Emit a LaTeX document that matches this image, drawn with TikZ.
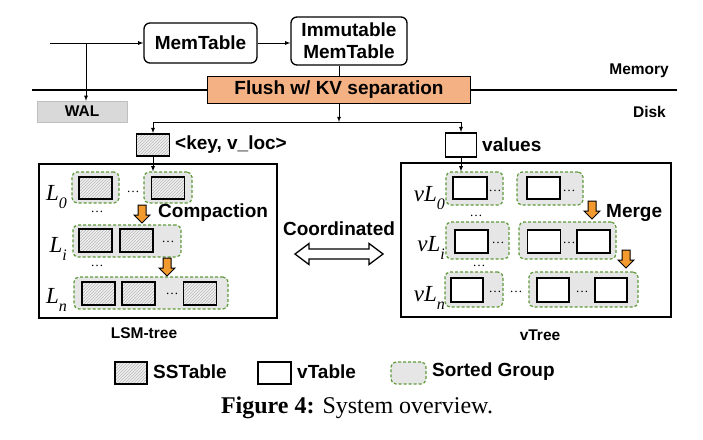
\documentclass[tikz,border=0pt]{standalone}
\usepackage{fontspec}
\setmainfont{Liberation Serif}
\setsansfont{Liberation Sans}
\usetikzlibrary{patterns,positioning}

\definecolor{laranja}{HTML}{F4B183}
\definecolor{laranjaforte}{HTML}{F39A2E}
\definecolor{verde}{HTML}{5E9A3A}
\definecolor{cinza}{HTML}{E6E6E6}
\definecolor{cinzawal}{HTML}{D9D9D9}

\newcommand{\bigf}{\fontsize{19}{22}\selectfont\sffamily\bfseries}
\newcommand{\smallf}{\fontsize{15.5}{18}\selectfont\sffamily\bfseries}
\newcommand{\lvl}[2]{\textit{#1\raisebox{-0.35em}{\fontsize{16}{16}\selectfont #2}}}

\tikzset{pics/desce/.style={code={
  \draw[line width=1pt, fill=laranjaforte] (-4,-9) -- (4,-9) -- (4,1) -- (8,1) -- (0,9) -- (-8,1) -- (-4,1) -- cycle;}}}

\begin{document}
\begin{tikzpicture}[x=1pt,y=-1pt]
        \tikzstyle{caixa}=[draw=black, line width=1.3pt, rounded corners=6pt, fill=white, font=\bigf, align=center, inner sep=0pt]
        \tikzstyle{sst}=[draw=black, line width=1.8pt, preaction={fill=gray!12}, pattern=north east lines, pattern color=gray!55, minimum width=33, minimum height=22, inner sep=0pt]
        \tikzstyle{vtab}=[draw=black, line width=1.8pt, fill=white, minimum width=33, minimum height=22, inner sep=0pt]
        \tikzstyle{grupo}=[draw=verde, dash pattern=on 3pt off 2pt, line width=1.2pt, rounded corners=5pt, fill=cinza, inner sep=0pt]
        \tikzstyle{seta}=[->, >=latex, line width=0.8pt]
        \tikzstyle{rotulo}=[font=\bigf, inner sep=0pt]
        \tikzstyle{pequeno}=[font=\smallf, inner sep=0pt]
        \tikzstyle{nivel}=[font=\fontsize{23}{23}\selectfont\rmfamily, inner sep=0pt, anchor=base east]
        \tikzstyle{pontos}=[font=\fontsize{13}{13}\selectfont\rmfamily, inner sep=0pt]

        \useasboundingbox (0,0) rectangle (703,439);

        % memoria
        \coordinate (entrada) at (50,43);
        \coordinate (ramo) at (86,43);
        \node[caixa, minimum width=113, minimum height=40] (mem) at (200.5,43) {MemTable};
        \node[caixa, minimum width=116, minimum height=48] (imut) at (349,41) {Immutable\\MemTable};
        \node[draw=black, line width=1.3pt, fill=laranja, minimum width=263, minimum height=27, font=\bigf, inner sep=0pt] (flush) at (339,90) {Flush w/ KV separation};
        \node[fill=cinzawal, draw=gray!50, minimum width=90, minimum height=21, font=\smallf, inner sep=0pt] (wal) at (82,111.5) {WAL};

        \coordinate (linhaA) at (32,90);
        \coordinate (linhaB) at (677,90);
        \draw[line width=2pt] (linhaA) -- (flush.west);
        \draw[line width=2pt] (flush.east) -- (linhaB);

        \node[pequeno, anchor=east] (memoria) at (669,71) {Memory};
        \node[pequeno, anchor=east] (disco) at (666,112) {Disk};

        \draw[seta] (entrada) -- (mem.west);
        \draw[seta] (ramo) -- (ramo |- wal.north);
        \draw[seta] (mem.east) -- (mem.east -| imut.west);
        \draw[line width=0.8pt] (flush.north) -- (flush.north |- imut.south);

        % disco
        \coordinate (split) at (339,122);
        \node[sst] (chave) at (153,145) {};
        \node[vtab, minimum width=31, minimum height=24] (vals) at (461,145) {};
        \draw[seta] (flush.south) -- (split);
        \draw[seta] (split) -| (chave.north);
        \draw[seta] (split) -| (vals.north);
        \node[rotulo, anchor=west] (chaveT) at (175,145) {<key, v\_loc>};
        \node[rotulo, anchor=west] (valsT) at (482,145) {values};

        % LSM-tree
        \node[draw=black, line width=1.3pt, minimum width=238, minimum height=154, inner sep=0pt] (lsm) at (158,241) {};
        \node[pequeno] (lsmT) at (144,333) {LSM-tree};

        \node[nivel] (l0) at (67,200) {\lvl{L}{0}};
        \node[nivel] (li) at (67,252) {\lvl{L}{i}};
        \node[nivel] (ln) at (67,303) {\lvl{L}{n}};

        \node[grupo, minimum width=47, minimum height=31] (g01) at (95.5,187.5) {};
        \node[grupo, minimum width=48, minimum height=31] (g02) at (168,187.5) {};
        \node[grupo, minimum width=108, minimum height=32] (gi) at (127,241) {};
        \node[grupo, minimum width=154, minimum height=32] (gn) at (151,293) {};

        \node[sst] (s01) at (95.5,188) {};
        \node[sst] (s02) at (168,188) {};
        \node[sst, minimum height=23] (si1) at (95.5,240.5) {};
        \node[sst, minimum height=23] (si2) at (136.5,240.5) {};
        \node[sst, minimum height=23] (sn1) at (98.5,293.5) {};
        \node[sst, minimum height=23] (sn2) at (138.5,293.5) {};
        \node[sst, minimum height=23] (sn3) at (200,293.5) {};

        \node[pontos] at (133,192) {\dots};
        \node[pontos] at (97,212) {\dots};
        \node[pontos] at (168,242) {\dots};
        \node[pontos] at (97,266) {\dots};
        \node[pontos] at (172,294) {\dots};

        \draw[seta] (chave.south) -- (chave.south |- g02.north);

        \pic at (142,214) {desce};
        \pic at (167,267) {desce};
        \node[rotulo, anchor=west] (compT) at (158,213) {Compaction};

        % coordenacao
        \node[rotulo] (coordT) at (339,229) {Coordinated};
        \draw[line width=1.3pt, fill=white, shift={(339,254)}] (-44,0) -- (-30,-10.5) -- (-30,-5) -- (30,-5) -- (30,-10.5) -- (44,0) -- (30,10.5) -- (30,5) -- (-30,5) -- (-30,10.5) -- cycle;

        % vTree
        \node[draw=black, line width=1.3pt, minimum width=270, minimum height=154, inner sep=0pt] (vtree) at (536,240) {};
        \node[pequeno] (vtreeT) at (540,335) {vTree};

        \node[nivel] (vl0) at (445,201) {\lvl{vL}{0}};
        \node[nivel] (vli) at (445,251) {\lvl{vL}{i}};
        \node[nivel] (vln) at (445,301) {\lvl{vL}{n}};

        \node[grupo, minimum width=57, minimum height=33] (vg01) at (474.5,188.5) {};
        \node[grupo, minimum width=66, minimum height=33] (vg02) at (550,188.5) {};
        \node[grupo, minimum width=63, minimum height=37] (vgi1) at (477.5,240.5) {};
        \node[grupo, minimum width=97, minimum height=37] (vgi2) at (567.5,240.5) {};
        \node[grupo, minimum width=58, minimum height=35] (vgn1) at (474,289.5) {};
        \node[grupo, minimum width=109, minimum height=35] (vgn2) at (583.5,289.5) {};

        \node[vtab, minimum width=34] (v01) at (470,188) {};
        \node[vtab] (v02) at (543.5,188) {};
        \node[vtab, minimum height=23] (vi1) at (471.5,241.5) {};
        \node[vtab, minimum height=23] (vi2) at (544,241.5) {};
        \node[vtab, minimum height=23] (vi3) at (593.5,241.5) {};
        \node[vtab, minimum width=32, minimum height=24] (vn1) at (467,290) {};
        \node[vtab, minimum width=32, minimum height=24] (vn2) at (553,290) {};
        \node[vtab, minimum width=32, minimum height=24] (vn3) at (611,290) {};

        \node[pontos] at (495,191) {\dots};
        \node[pontos] at (569,191) {\dots};
        \node[pontos] at (476,216) {\dots};
        \node[pontos] at (498,243) {\dots};
        \node[pontos] at (569,243) {\dots};
        \node[pontos] at (479,266) {\dots};
        \node[pontos] at (495,292) {\dots};
        \node[pontos] at (516,292) {\dots};
        \node[pontos] at (582,292) {\dots};

        \draw[seta] (vals.south) -- (vals.south |- vg01.north);

        \pic at (592,210) {desce};
        \pic at (626,259) {desce};
        \node[rotulo, anchor=west] (mergeT) at (606,213) {Merge};

        % legenda
        \node[sst, minimum width=32] (legS) at (131,373) {};
        \node[rotulo, anchor=west] (legST) at (153,372) {SSTable};
        \node[vtab] (legV) at (274.5,373) {};
        \node[rotulo, anchor=west] (legVT) at (297,372) {vTable};
        \node[grupo, minimum width=35, minimum height=22] (legG) at (408.5,373) {};
        \node[rotulo, anchor=west] (legGT) at (432,372) {Sorted Group};

        \node[font=\fontsize{24}{26}\selectfont\rmfamily, inner sep=0pt] (legenda) at (357,408) {\textbf{Figure 4:} System overview.};
      \end{tikzpicture}
\end{document}
